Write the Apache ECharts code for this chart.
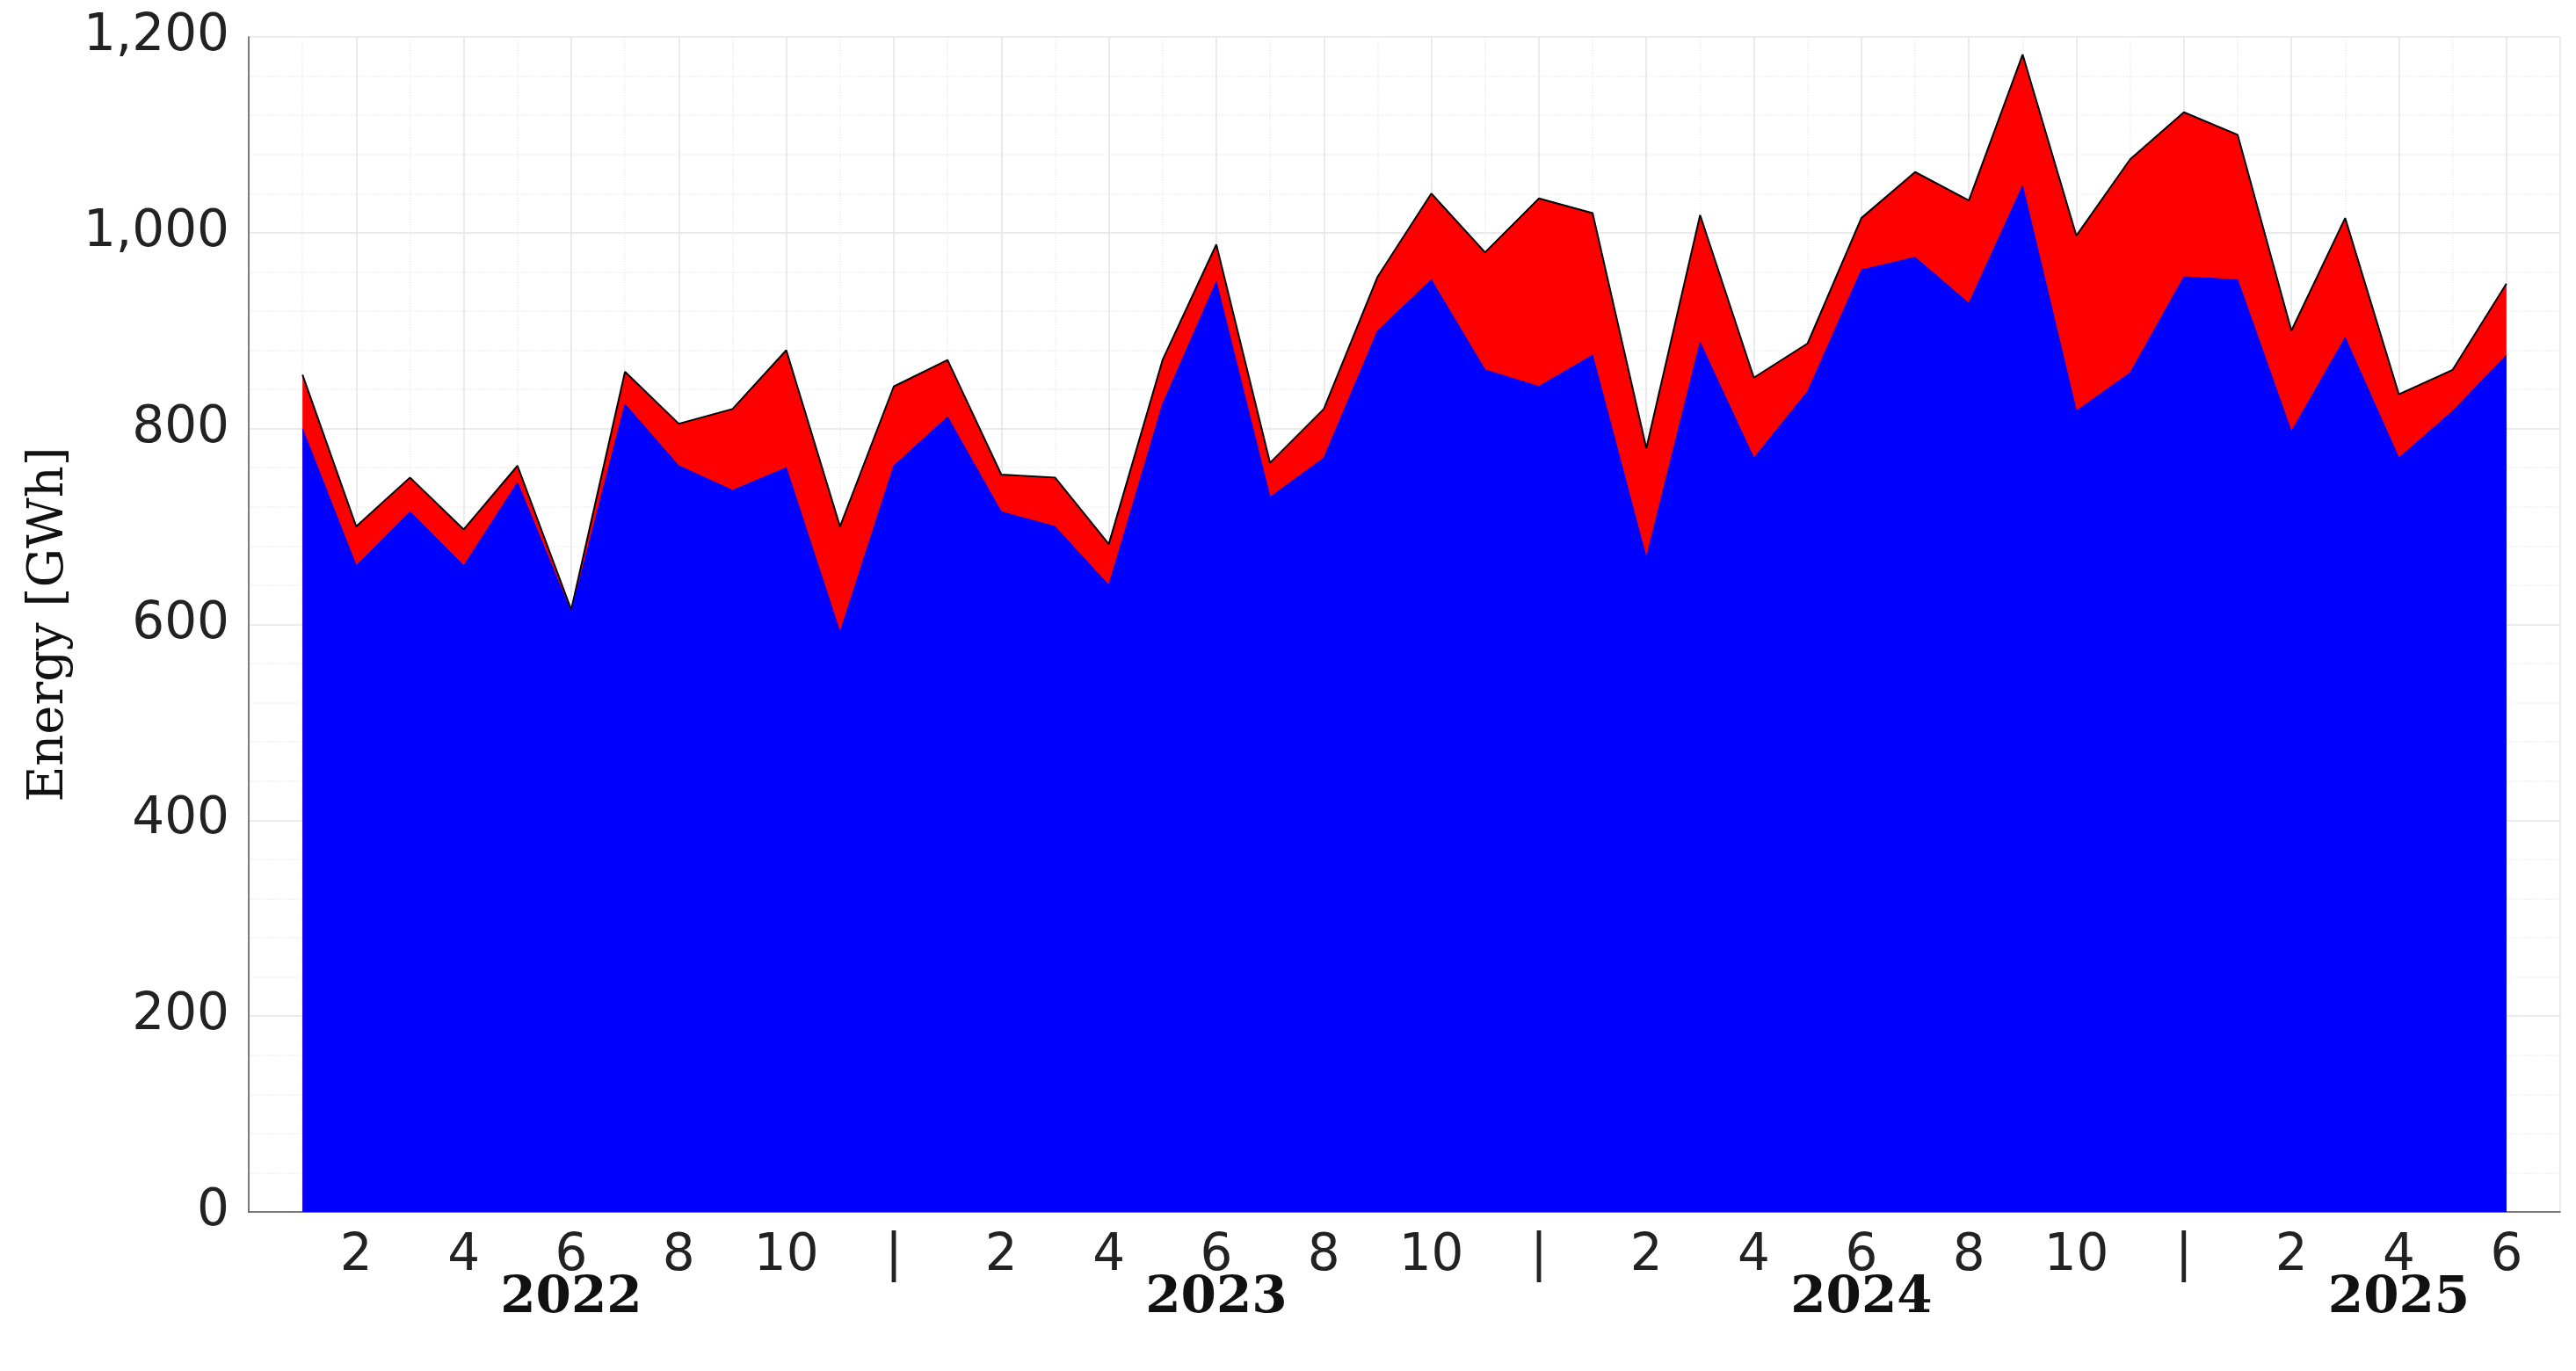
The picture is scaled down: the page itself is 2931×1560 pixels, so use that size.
<!DOCTYPE html>
<html><head><meta charset="utf-8">
<script src="https://cdn.jsdelivr.net/npm/echarts@6/dist/echarts.min.js"></script>
<style>html,body{margin:0;padding:0;background:#fff}#c{width:2931px;height:1560px}</style>
</head><body><div id="c"></div>
<script>
const months = Array.from({length:42},(_,i)=>i+1);
const totalVals = [855,700,750,697,762,615,858,805,820,880,700,843,
 870,753,750,682,870,988,765,820,955,1040,980,1035,
 1020,780,1018,852,887,1015,1062,1033,1182,997,1075,1123,
 1100,900,1015,835,860,948];
const blueVals = [800,660,715,660,745,612,825,762,737,760,592,762,
 812,715,700,640,825,950,730,770,900,952,860,843,
 875,668,888,770,838,962,975,928,1048,818,857,955,
 952,797,893,770,818,875];
const yearLabels = {6:'2022',18:'2023',30:'2024',40:'2025'};
const chart = echarts.init(document.getElementById('c'));
const gridLine = {show:true,lineStyle:{color:'#e4e4e4',width:1.5}};
const minorLine = {show:true,lineStyle:{color:'#eeeeee',type:'dotted',width:1.5}};
chart.setOption({
  animation:false,
  grid:{left:283,right:18,top:42,bottom:181},
  xAxis:[{type:'value',min:0,max:43,interval:2,
    axisLine:{show:true,onZero:false,lineStyle:{color:'#555',width:1.5}},
    axisTick:{show:false},
    axisLabel:{fontSize:58,color:'#222',margin:22,fontFamily:'DejaVu Sans',
      formatter:v=>v===0||v>42?'':(v%12===0?'|':String(v%12))},
    splitLine:gridLine,minorTick:{show:false,splitNumber:2},minorSplitLine:minorLine},
   {type:'value',min:0,max:43,interval:1,position:'bottom',offset:62,
    axisLine:{show:false},axisTick:{show:false},splitLine:{show:false},
    axisLabel:{fontSize:58,color:'#111',fontFamily:'DejaVu Serif',fontWeight:'bold',
      formatter:v=>yearLabels[v]||''}}],
  yAxis:{type:'value',min:0,max:1200,interval:200,
    name:'Energy [GWh]',nameLocation:'middle',nameGap:150,
    nameTextStyle:{fontSize:56,fontFamily:'DejaVu Serif',color:'#111'},
    axisLine:{show:true,lineStyle:{color:'#555',width:1.5}},axisTick:{show:false},
    axisLabel:{fontSize:58,color:'#222',margin:22,fontFamily:'DejaVu Sans'},
    splitLine:gridLine,minorTick:{show:false,splitNumber:5},minorSplitLine:minorLine},
  series:[
    {type:'line',data:months.map((m,i)=>[m,totalVals[i]]),symbol:'none',
     lineStyle:{color:'#000',width:2},areaStyle:{color:'#ff0000',opacity:1},z:2},
    {type:'line',data:months.map((m,i)=>[m,blueVals[i]]),symbol:'none',
     lineStyle:{color:'#0000ff',width:1},areaStyle:{color:'#0000ff',opacity:1},z:3}
  ]
});
</script></body></html>
